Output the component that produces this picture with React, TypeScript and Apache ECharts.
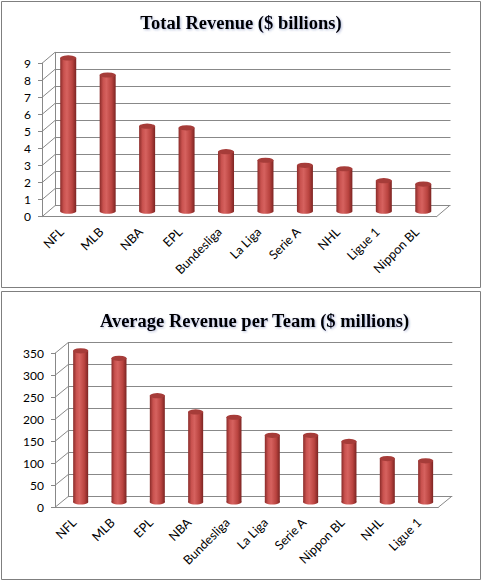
import { useEffect, useRef } from "react"
import * as echarts from "echarts"

// Total revenue ($ billions)
const totalLeagues = ["NFL", "MLB", "NBA", "EPL", "Bundesliga", "La Liga", "Serie A", "NHL", "Ligue 1", "Nippon BL"]
const totalValues = [9.0, 8.0, 5.0, 4.9, 3.5, 3.0, 2.7, 2.5, 1.8, 1.6]
const totalTicks = [0, 1, 2, 3, 4, 5, 6, 7, 8, 9]

// Average revenue per team ($ millions)
const perTeamLeagues = ["NFL", "MLB", "EPL", "NBA", "Bundesliga", "La Liga", "Serie A", "Nippon BL", "NHL", "Ligue 1"]
const perTeamValues = [344, 327, 242, 205, 193, 152, 152, 138, 99, 94]
const perTeamTicks = [0, 50, 100, 150, 200, 250, 300, 350]

const GRID_COLOR = "#888888"
const LABEL_FONT = "Lato"

type Box = { left: number; top: number; width: number; height: number }

interface PanelCfg {
  leagues: string[]
  values: number[]
  ticks: number[]
  interval: number
  front: Box
  depthX: number
  depthY: number
  barWidth: number
}

const bodyGradient = () =>
  new echarts.graphic.LinearGradient(0, 0, 1, 0, [
    { offset: 0, color: "#8a2b29" },
    { offset: 0.22, color: "#c9524f" },
    { offset: 0.42, color: "#d6625f" },
    { offset: 0.75, color: "#b9433f" },
    { offset: 1, color: "#7c2422" },
  ])

function buildPanel(cfg: PanelCfg, base: number) {
  const { front, depthX, depthY } = cfg
  const min = cfg.ticks[0]
  const max = cfg.ticks[cfg.ticks.length - 1]
  const back = { ...front, left: front.left + depthX, top: front.top - depthY, width: front.width + 1 }
  const mid = { ...front, left: front.left + depthX / 2, top: front.top - depthY / 2 }

  const grids = [back, front, mid]
  const backIdx = base
  const frontIdx = base + 1
  const midIdx = base + 2

  const yBase = { type: "value" as const, min, max, interval: cfg.interval }

  const xAxes = [
    { type: "category", gridIndex: backIdx, data: cfg.leagues, show: false },
    {
      type: "category",
      gridIndex: frontIdx,
      data: cfg.leagues,
      axisLine: { lineStyle: { color: GRID_COLOR } },
      axisTick: { length: 4, lineStyle: { color: GRID_COLOR } },
      axisLabel: {
        interval: 0,
        rotate: 45,
        margin: 13,
        color: "#000",
        fontFamily: LABEL_FONT,
        fontSize: 12.5,
      },
    },
    { type: "category", gridIndex: midIdx, data: cfg.leagues, show: false },
  ]

  const yAxes = [
    {
      ...yBase,
      gridIndex: backIdx,
      axisLine: { show: true, lineStyle: { color: GRID_COLOR } },
      axisTick: { show: false },
      axisLabel: { show: false },
      splitLine: { show: true, lineStyle: { color: GRID_COLOR, width: 1 } },
    },
    {
      ...yBase,
      gridIndex: frontIdx,
      axisLine: { show: true, lineStyle: { color: GRID_COLOR } },
      axisTick: { show: true, length: 4, lineStyle: { color: GRID_COLOR } },
      axisLabel: { margin: 11, color: "#000", fontFamily: LABEL_FONT, fontSize: 12 },
      splitLine: { show: false },
    },
    { ...yBase, gridIndex: midIdx, show: false, splitLine: { show: false } },
  ]

  const n = cfg.leagues.length
  const series = [
    {
      // depth lines: left wall diagonals and right floor edge
      type: "custom",
      xAxisIndex: frontIdx,
      yAxisIndex: frontIdx,
      silent: true,
      z: 1,
      data: cfg.ticks.map((t) => [0, t]),
      renderItem: (_params: any, api: any) => {
        const v = api.value(1)
        const p = api.coord([0, v])
        const half = api.size([1, 0])[0] / 2
        const x0 = p[0] - half
        const style = { stroke: GRID_COLOR, lineWidth: 1, fill: "none" }
        const children: any[] = [
          { type: "line", shape: { x1: x0, y1: p[1], x2: x0 + depthX, y2: p[1] - depthY }, style },
        ]
        if (v === min) {
          const q = api.coord([n - 1, min])
          const x1 = q[0] + half
          children.push({ type: "line", shape: { x1, y1: q[1], x2: x1 + depthX, y2: q[1] - depthY }, style })
        }
        return { type: "group", children }
      },
    },
    {
      type: "pictorialBar",
      xAxisIndex: midIdx,
      yAxisIndex: midIdx,
      symbol: "circle",
      symbolSize: [cfg.barWidth, 5],
      symbolPosition: "start",
      symbolOffset: [0, "50%"],
      data: cfg.values,
      itemStyle: { color: bodyGradient() },
      z: 2,
      silent: true,
    },
    {
      type: "bar",
      xAxisIndex: midIdx,
      yAxisIndex: midIdx,
      barWidth: cfg.barWidth,
      data: cfg.values,
      itemStyle: { color: bodyGradient() },
      z: 3,
      silent: true,
    },
    {
      type: "pictorialBar",
      xAxisIndex: midIdx,
      yAxisIndex: midIdx,
      symbol: "circle",
      symbolSize: [cfg.barWidth, 5],
      symbolPosition: "end",
      symbolOffset: [0, "-50%"],
      data: cfg.values,
      itemStyle: { color: "#a63c39", borderColor: "#c85753", borderWidth: 0.6 },
      z: 4,
      silent: true,
    },
  ]

  return { grids, xAxes, yAxes, series }
}

export default function App() {
  const chartRef = useRef<HTMLDivElement>(null)

  useEffect(() => {
    if (!chartRef.current) return
    const chart = echarts.init(chartRef.current, null, { renderer: "svg" })

    const top = buildPanel(
      {
        leagues: totalLeagues,
        values: totalValues,
        ticks: totalTicks,
        interval: 1,
        front: { left: 42, top: 63.3, width: 394.5, height: 153.4 },
        depthX: 13,
        depthY: 11,
        barWidth: 16,
      },
      0
    )
    const bottom = buildPanel(
      {
        leagues: perTeamLeagues,
        values: perTeamValues,
        ticks: perTeamTicks,
        interval: 50,
        front: { left: 55, top: 353.3, width: 383.3, height: 154 },
        depthX: 13,
        depthY: 10.6,
        barWidth: 15,
      },
      3
    )

    const titleStyle = {
      fontFamily: "Liberation Serif",
      fontWeight: "bold",
      fontSize: 18.5,
      fill: "#000",
      textAlign: "center",
      textVerticalAlign: "middle",
      textShadowColor: "rgba(40,60,140,0.35)",
      textShadowBlur: 2,
      textShadowOffsetX: 1,
      textShadowOffsetY: 1,
    }

    chart.setOption({
      animation: false,
      grid: [...top.grids, ...bottom.grids],
      xAxis: [...top.xAxes, ...bottom.xAxes],
      yAxis: [...top.yAxes, ...bottom.yAxes],
      series: [...top.series, ...bottom.series],
      graphic: [
        {
          type: "rect",
          shape: { x: 1.5, y: 1.5, width: 479, height: 286 },
          style: { fill: "none", stroke: "#7f7f7f", lineWidth: 1 },
          silent: true,
        },
        {
          type: "rect",
          shape: { x: 1.5, y: 291.5, width: 479, height: 288 },
          style: { fill: "none", stroke: "#7f7f7f", lineWidth: 1 },
          silent: true,
        },
        {
          type: "text",
          x: 241,
          y: 23,
          style: { ...titleStyle, text: "Total Revenue ($ billions)" },
          silent: true,
        },
        {
          type: "text",
          x: 254.5,
          y: 321,
          style: { ...titleStyle, text: "Average Revenue per Team ($ millions)" },
          silent: true,
        },
      ],
    })

    return () => {
      chart.dispose()
    }
  }, [])

  return (
    <div
      ref={chartRef}
      style={{ position: "absolute", left: 0, top: 0, width: "483px", height: "582px", background: "#fff" }}
    />
  )
}
